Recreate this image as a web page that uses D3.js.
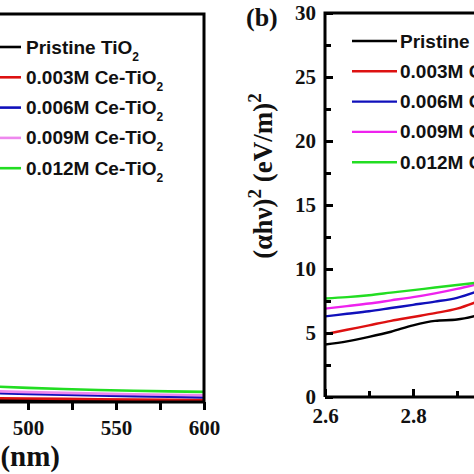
<!DOCTYPE html>
<html><head><meta charset="utf-8">
<script src="https://cdn.jsdelivr.net/npm/d3@7"></script>
<style>
html,body{margin:0;padding:0;background:#fff;overflow:hidden}
svg{display:block}
.tk text{font-family:"Liberation Serif","Times New Roman",serif;font-weight:bold;font-size:21px;fill:#111}
</style></head>
<body>
<svg id="c" width="474" height="474"></svg>
<script>
// ---------- data ----------
const seriesNames = ["Pristine TiO", "0.003M Ce-TiO", "0.006M Ce-TiO", "0.009M Ce-TiO", "0.012M Ce-TiO"];
const colorsA = ["#000000", "#dd1111", "#1010bb", "#ee88ee", "#22dd22"];
const colorsB = ["#000000", "#dd1111", "#1010bb", "#ee22ee", "#22dd22"];

// panel (a): wavelength (nm) vs absorbance (a.u.)
const wavelength = [480, 500, 520, 540, 560, 580, 600];
const absPristine = [0.012, 0.010, 0.009, 0.008, 0.007, 0.006, 0.005];
const abs003 = [0.020, 0.018, 0.016, 0.014, 0.012, 0.011, 0.010];
const abs006 = [0.046, 0.042, 0.038, 0.034, 0.030, 0.027, 0.024];
const abs009 = [0.056, 0.051, 0.047, 0.043, 0.040, 0.037, 0.034];
const abs012 = [0.080, 0.073, 0.067, 0.062, 0.058, 0.055, 0.052];
const xTicksA = [500, 525, 550, 575, 600];

// panel (b): photon energy (eV) vs (αhν)^2
const energy = [2.6, 2.65, 2.7, 2.75, 2.8, 2.85, 2.9, 2.95];
const tPristine = [4.1, 4.35, 4.7, 5.1, 5.6, 5.95, 6.05, 6.4];
const t003 = [4.9, 5.25, 5.6, 5.95, 6.25, 6.55, 6.9, 7.5];
const t006 = [6.3, 6.5, 6.7, 6.95, 7.2, 7.45, 7.75, 8.3];
const t009 = [6.9, 7.1, 7.3, 7.55, 7.8, 8.1, 8.45, 8.85];
const t012 = [7.7, 7.8, 7.95, 8.15, 8.35, 8.55, 8.75, 8.95];
const yTicksB = [0, 2.5, 5, 7.5, 10, 12.5, 15, 17.5, 20, 22.5, 25, 27.5, 30];
const xTicksB = [2.6, 2.7, 2.8, 2.9];

const seriesA = [absPristine, abs003, abs006, abs009, abs012];
const seriesB = [tPristine, t003, t006, t009, t012];

// ---------- drawing ----------
const svg = d3.select("#c");
const defs = svg.append("defs");

// ===== Panel (a) =====
const xA = d3.scaleLinear().domain([500, 600]).range([28, 204]);
const yA = d3.scaleLinear().domain([0, 2]).range([402, 14]);

defs.append("clipPath").attr("id", "clipA").append("rect")
  .attr("x", -20).attr("y", 14).attr("width", 224).attr("height", 388);

const gA = svg.append("g");
const lineA = d3.line().x((d, i) => xA(wavelength[i])).y(d => yA(d));
gA.append("g").attr("clip-path", "url(#clipA)")
  .selectAll("path").data(seriesA).join("path")
  .attr("d", d => lineA(d)).attr("fill", "none")
  .attr("stroke", (d, i) => colorsA[i]).attr("stroke-width", 2.6);

// frame
gA.append("path")
  .attr("d", `M${-10},${yA(2)} H${xA(600)} V${yA(0)} H-10`)
  .attr("fill", "none").attr("stroke", "#000").attr("stroke-width", 3);

const axA = gA.append("g").attr("class", "tk").attr("transform", `translate(0,${yA(0)})`)
  .call(d3.axisBottom(xA).tickValues(xTicksA).tickSize(8)
    .tickFormat(d => (d % 50 === 0 ? d : "")));
axA.select(".domain").remove();
axA.selectAll(".tick line").attr("stroke", "#000").attr("stroke-width", 3);
axA.selectAll(".tick text").attr("y", 18).attr("dy", "0.71em");

gA.append("text").attr("x", 60).attr("y", 466).attr("text-anchor", "end")
  .attr("font-family", "Liberation Serif, Times New Roman, serif").attr("font-weight", "bold")
  .attr("font-size", 29).attr("fill", "#111").text("Wavelength (nm)");

// legend A
const legA = gA.append("g");
seriesNames.forEach((n, i) => {
  const y = 47 + i * 30.3;
  legA.append("line").attr("x1", -10).attr("x2", 21).attr("y1", y).attr("y2", y)
    .attr("stroke", colorsA[i]).attr("stroke-width", 2.6);
  const t = legA.append("text").attr("x", 26).attr("y", y + 6.5)
    .attr("font-family", "Liberation Sans, Arial, sans-serif").attr("font-weight", "bold")
    .attr("font-size", 19).attr("fill", "#111");
  t.append("tspan").text(n);
  t.append("tspan").attr("dy", 7).attr("font-size", 12).text("2");
});

// ===== Panel (b) =====
const xB = d3.scaleLinear().domain([2.6, 2.8]).range([325, 413]);
const yB = d3.scaleLinear().domain([0, 30]).range([397, 13]);

defs.append("clipPath").attr("id", "clipB").append("rect")
  .attr("x", 325).attr("y", 13).attr("width", 200).attr("height", 384);

const gB = svg.append("g");
const lineB = d3.line().x((d, i) => xB(energy[i])).y(d => yB(d)).curve(d3.curveMonotoneX);
gB.append("g").attr("clip-path", "url(#clipB)")
  .selectAll("path").data(seriesB).join("path")
  .attr("d", d => lineB(d)).attr("fill", "none")
  .attr("stroke", (d, i) => colorsB[i]).attr("stroke-width", 2.4);

gB.append("path")
  .attr("d", `M${xB(2.6)},${yB(0)} V${yB(30)} H490 M${xB(2.6)},${yB(0)} H490`)
  .attr("fill", "none").attr("stroke", "#000").attr("stroke-width", 3);

const ayB = gB.append("g").attr("class", "tk").attr("transform", `translate(${xB(2.6)},0)`)
  .call(d3.axisLeft(yB).tickValues(yTicksB).tickSize(-8).tickPadding(9)
    .tickFormat(d => (d % 5 === 0 ? d : "")));
ayB.select(".domain").remove();
ayB.selectAll(".tick line").attr("stroke", "#000").attr("stroke-width", 3)
  .attr("x2", d => (d % 5 === 0 ? 8 : 6));

const axB = gB.append("g").attr("class", "tk").attr("transform", `translate(0,${yB(0)})`)
  .call(d3.axisBottom(xB).tickValues(xTicksB).tickSize(-8)
    .tickFormat(d => (Math.round(d * 10) % 2 === 0 ? d3.format(".1f")(d) : "")));
axB.select(".domain").remove();
axB.selectAll(".tick line").attr("stroke", "#000").attr("stroke-width", 3)
  .attr("y2", d => (Math.round(d * 10) % 2 === 0 ? -8 : -6));
axB.selectAll(".tick text").attr("y", 11).attr("dy", "0.71em");

// y title
const yt = gB.append("text").attr("transform", "translate(272,176) rotate(-90)")
  .attr("text-anchor", "middle")
  .attr("font-family", "Liberation Serif, Times New Roman, serif").attr("font-weight", "bold")
  .attr("font-size", 27).attr("fill", "#111");
yt.append("tspan").text("(αhν)");
yt.append("tspan").attr("dy", -11).attr("font-size", 19).text("2");
yt.append("tspan").attr("dy", 11).text("  (eV/m)");
yt.append("tspan").attr("dy", -11).attr("font-size", 19).text("2");

gB.append("text").attr("x", 246).attr("y", 26)
  .attr("font-family", "Liberation Serif, Times New Roman, serif").attr("font-weight", "bold")
  .attr("font-size", 26).attr("fill", "#111").text("(b)");

// legend B
const legB = gB.append("g");
seriesNames.forEach((n, i) => {
  const y = 41 + i * 30.3;
  legB.append("line").attr("x1", 352).attr("x2", 397).attr("y1", y).attr("y2", y)
    .attr("stroke", colorsB[i]).attr("stroke-width", 2.4);
  const t = legB.append("text").attr("x", 400).attr("y", y + 6.5)
    .attr("font-family", "Liberation Sans, Arial, sans-serif").attr("font-weight", "bold")
    .attr("font-size", 19).attr("fill", "#111");
  t.append("tspan").text(n);
  t.append("tspan").attr("dy", 7).attr("font-size", 12).text("2");
});
</script>
</body></html>
